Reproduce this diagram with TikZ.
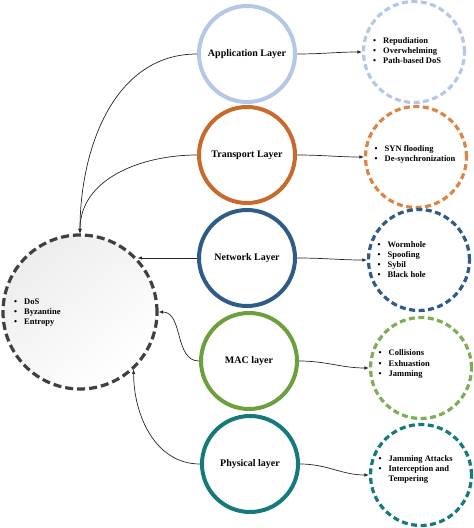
\documentclass[tikz,border=0pt]{standalone}
\usepackage{fontspec}
\setmainfont{Liberation Serif}
\usetikzlibrary{arrows.meta}
\definecolor{appc}{HTML}{B4C7E7}
\definecolor{trc}{HTML}{C96A2C}
\definecolor{trcl}{HTML}{DE8543}
\definecolor{netc}{HTML}{2F5C87}
\definecolor{macc}{HTML}{6C9F3E}
\definecolor{maccl}{HTML}{7DAE55}
\definecolor{phyc}{HTML}{157A7C}
\definecolor{bigc}{HTML}{404040}
\newcommand{\blt}{\textbullet}
\begin{document}
\begin{tikzpicture}[x=1pt,y=1pt,
  layer/.style={circle,draw=#1,fill=white,line width=4pt,minimum size=96pt,inner sep=0pt,
    font=\fontsize{10}{12}\selectfont\bfseries},
  attack/.style={circle,draw=#1,line width=3.2pt,minimum size=101pt,inner sep=0pt,
    dash pattern=on 6pt off 3.5pt},
  biggy/.style={circle,draw=bigc,line width=3.2pt,minimum size=154pt,inner sep=0pt,
    dash pattern=on 8pt off 4pt,top color=black!7,bottom color=white,shading angle=40},
  lst/.style={anchor=west,inner sep=0pt,font=\fontsize{8.5}{10.2}\selectfont\bfseries},
  conn/.style={draw=black!85,line width=0.7pt,-{Latex[length=4.5pt,width=3.5pt]}}
]
\useasboundingbox (0,0) rectangle (474,528);

% left big circle
\node[biggy] (big) at (80,216) {};
\node[lst] (bigl) at (14,215.5) {\begin{tabular}{@{}l@{\hspace{7pt}}l@{}}\blt&DoS\\\blt&Byzantine\\\blt&Entropy\end{tabular}};

% layer circles
\node[layer=appc] (app) at (247,474) {Application Layer};
\node[layer=trc]  (tr)  at (247,373) {Transport Layer};
\node[layer=netc] (net) at (247,270) {Network Layer};
\node[layer=macc] (mac) at (249,167) {MAC layer};
\node[layer=phyc] (phy) at (250,64)  {Physical layer};

% attack circles
\node[attack=appc]  (appR) at (414,476) {};
\node[attack=trcl]  (trR)  at (416,371) {};
\node[attack=netc]  (netR) at (419,268) {};
\node[attack=maccl] (macR) at (421,160) {};
\node[attack=phyc]  (phyR) at (421,53)  {};

\node[lst] (appL) at (373,476.5) {\begin{tabular}{@{}l@{\hspace{7pt}}l@{}}\blt&Repudiation\\\blt&Overwhelming\\\blt&Path-based DoS\end{tabular}};
\node[lst] (trL) at (374.5,373.5) {\begin{tabular}{@{}l@{\hspace{7pt}}l@{}}\blt&SYN flooding\\\blt&De-synchronization\end{tabular}};
\node[lst] (netL) at (377.5,267.5) {\begin{tabular}{@{}l@{\hspace{7pt}}l@{}}\blt&Wormhole\\\blt&Spoofing\\\blt&Sybil\\\blt&Black hole\end{tabular}};
\node[lst] (macL) at (378.5,164) {\begin{tabular}{@{}l@{\hspace{7pt}}l@{}}\blt&Collisions\\\blt&Exhuastion\\\blt&Jamming\end{tabular}};
\node[lst] (phyL) at (378.5,58.5) {\begin{tabular}{@{}l@{\hspace{7pt}}l@{}}\blt&Jamming Attacks\\\blt&Interception and\\&Tempering\end{tabular}};

% connectors to attack circles
\draw[conn] (app.east) to[out=0,in=180] (appR.west);
\draw[conn] (tr.east)  to[out=0,in=180] (trR.west);
\draw[conn] (net.east) to[out=0,in=180] (netR.west);
\draw[conn] (mac.east) to[out=0,in=180] (macR.west);
\draw[conn] (phy.east) to[out=0,in=180] (phyR.west);

% connectors to big circle
\draw[conn] (app.west) to[out=180,in=90] (big.north);
\draw[conn] (tr.west)  to[out=180,in=90] (big.north);
\draw[conn] (net.west) -- (big.43.5 |- net.west);
\draw[conn] (mac.west) to[out=180,in=0] (big.east);
\draw[conn] (phy.west) to[out=180,in=-90] (big.-47);
\end{tikzpicture}
\end{document}
